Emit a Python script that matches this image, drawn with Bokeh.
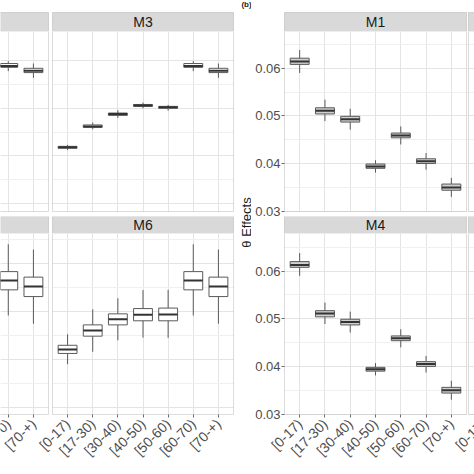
import math

from bokeh.core.properties import value
from bokeh.embed import file_html
from bokeh.layouts import column, row
from bokeh.models import (BoxAnnotation, ColumnDataSource, FixedTicker, Grid, Label,
                          LinearAxis, PrintfTickFormatter, Range1d)
from bokeh.plotting import figure
from bokeh.resources import INLINE
from bokeh.transform import dodge

# ---------------------------------------------------------------- data
age_groups = ["[0-17)", "[17-30)", "[30-40)", "[40-50)", "[50-60)", "[60-70)", "[70-+)"]

# (a) M3: lower whisker, Q1, median, Q3, upper whisker per age group
m3_low = [0.0512, 0.0556, 0.0580, 0.0600, 0.0595, 0.0678, 0.0664]
m3_q1 = [0.0516, 0.0560, 0.0585, 0.0604, 0.0600, 0.0686, 0.0675]
m3_med = [0.0518, 0.0562, 0.0588, 0.0606, 0.0602, 0.0689, 0.0679]
m3_q3 = [0.0520, 0.0565, 0.0590, 0.0608, 0.0604, 0.0694, 0.0684]
m3_up = [0.0523, 0.0570, 0.0596, 0.0612, 0.0607, 0.0699, 0.0694]

# (a) M6
m6_low = [0.0379, 0.0431, 0.0479, 0.0490, 0.0489, 0.0582, 0.0548]
m6_q1 = [0.0424, 0.0496, 0.0543, 0.0560, 0.0560, 0.0689, 0.0661]
m6_med = [0.0440, 0.0520, 0.0567, 0.0585, 0.0586, 0.0728, 0.0703]
m6_q3 = [0.0458, 0.0543, 0.0589, 0.0611, 0.0613, 0.0765, 0.0742]
m6_up = [0.0504, 0.0608, 0.0654, 0.0688, 0.0689, 0.0879, 0.0857]

# (a) neighbouring panels, oldest two age groups
m2_groups = ["[60-70)", "[70-+)"]
m2_low = [0.0678, 0.0664]
m2_q1 = [0.0686, 0.0675]
m2_med = [0.0689, 0.0679]
m2_q3 = [0.0694, 0.0684]
m2_up = [0.0699, 0.0694]

m5_groups = ["[60-70)", "[70-+)"]
m5_low = [0.0582, 0.0548]
m5_q1 = [0.0689, 0.0661]
m5_med = [0.0728, 0.0703]
m5_q3 = [0.0765, 0.0742]
m5_up = [0.0879, 0.0857]

# (b) M1 theta effects
m1_low = [0.0590, 0.0489, 0.0471, 0.0381, 0.0440, 0.0387, 0.0330]
m1_q1 = [0.0608, 0.0504, 0.0487, 0.0390, 0.0454, 0.0400, 0.0344]
m1_med = [0.0614, 0.0511, 0.0493, 0.0394, 0.0459, 0.0405, 0.0350]
m1_q3 = [0.0621, 0.0517, 0.0499, 0.0399, 0.0464, 0.0410, 0.0357]
m1_up = [0.0638, 0.0534, 0.0515, 0.0407, 0.0478, 0.0422, 0.0370]

# (b) M4 theta effects
m4_low = [0.0590, 0.0489, 0.0471, 0.0381, 0.0440, 0.0387, 0.0330]
m4_q1 = [0.0608, 0.0504, 0.0487, 0.0390, 0.0454, 0.0400, 0.0344]
m4_med = [0.0613, 0.0511, 0.0493, 0.0394, 0.0459, 0.0405, 0.0350]
m4_q3 = [0.0620, 0.0517, 0.0499, 0.0398, 0.0464, 0.0410, 0.0356]
m4_up = [0.0638, 0.0534, 0.0515, 0.0407, 0.0478, 0.0422, 0.0370]

# first age group of the next (b) column, only its tick label shows
next_groups = ["[0-17)"]

b_ticks = [0.03, 0.04, 0.05, 0.06]
b_minor = [0.035, 0.045, 0.055, 0.065]
a_top_ticks = [0.04, 0.05, 0.06, 0.07]
a_top_minor = [0.045, 0.055, 0.065]
a_bot_ticks = [0.02, 0.04, 0.06, 0.08]
a_bot_minor = [0.03, 0.05, 0.07, 0.09]

# ---------------------------------------------------------------- style
FONT = "Liberation Sans"
TICK_SIZE = "13px"
XLAB_SIZE = "14px"
STRIP_SIZE = "14px"
BORDER = "#8c8c8c"
STRIP_FILL = "#d9d9d9"
GRID_MAJOR = "#e4e4e4"
GRID_MINOR = "#f0f0f0"
TICK_TEXT = "#4d4d4d"
TICK_LINE = "#6a6a6a"

# vertical layout (px)
TOP_PAD, STRIP1_H, PANEL1_H, GAP_H = 12, 19, 180, 5
STRIP2_H, PANEL2_H, AXIS_H = 17, 181, 60

positions = list(range(1, len(age_groups) + 1))
X0, X1 = 0.4, 7.6          # plotting extent of a panel in category units

# horizontal layout (px): group (a) is 234 wide, the title strip 17, group (b) 223
W_A, W_T, W_B = 234, 17, 223
unit_a = 181 / (X1 - X0)   # px per category, group (a)
unit_b = 182 / (X1 - X0)   # px per category, group (b)


def a_ranges():
    # M3/M6 panel spans 52..233 px, neighbour panel ends at 48 px
    main = Range1d(X0 - 52 / unit_a, X1 + (W_A - 233) / unit_a)
    left = Range1d(X1 - 48 / unit_a, X1 + (W_A - 48) / unit_a)
    return main, {"nb": left}


def b_ranges():
    # M1/M4 panel spans 33..215 px, next panel starts at 217 px
    main = Range1d(X0 - 33 / unit_b, X1 + (W_B - 215) / unit_b)
    right = Range1d(X0 - 217 / unit_b, X0 + (W_B - 217) / unit_b)
    return main, {"nb": right}


def new_fig(width, height, ranges, yr):
    xr, extra = ranges
    p = figure(width=width, height=height, x_range=xr, y_range=yr,
               output_backend="svg", toolbar_location=None,
               x_axis_location=None, y_axis_location=None, min_border=0,
               background_fill_color="white", border_fill_color="white",
               outline_line_color=None)
    p.extra_x_ranges = extra
    p.xgrid.visible = False
    p.ygrid.visible = False
    return p


def cover(p, **kw):
    p.add_layout(BoxAnnotation(fill_color="white", fill_alpha=1, line_color=None,
                               level="underlay", **kw))


def border(p, left, right, bottom, top, rname="default", fill=None):
    p.add_layout(BoxAnnotation(left=left, right=right, bottom=bottom, top=top,
                               x_range_name=rname, fill_color=fill, fill_alpha=1,
                               line_color=BORDER, line_width=1))


def strips(width, height, ranges, pad, main_text, nb_side):
    yr = Range1d(0, height / (height - pad))
    p = new_fig(width, height, ranges, yr)
    nb = ranges[1]["nb"]
    if nb_side == "left":
        border(p, nb.start - 1, X1, 0, 1, "nb", STRIP_FILL)
    else:
        border(p, X0, nb.end + 1, 0, 1, "nb", STRIP_FILL)
    border(p, X0, X1, 0, 1, fill=STRIP_FILL)
    p.add_layout(Label(x=(X0 + X1) / 2, y=0.5, text=main_text, text_align="center",
                       text_baseline="middle", text_font=FONT,
                       text_font_size=STRIP_SIZE, text_color="#1a1a1a"))
    return p


def panels(width, plot_h, extra_h, ranges, rng, ticks, minor, nb_side):
    lo, hi = rng
    yr = Range1d(lo - extra_h * (hi - lo) / plot_h, hi)
    p = new_fig(width, plot_h + extra_h, ranges, yr)
    for rname in ("default", "nb"):
        p.add_layout(Grid(dimension=0, ticker=FixedTicker(ticks=positions),
                          x_range_name=rname, grid_line_color=GRID_MAJOR))
    p.add_layout(Grid(dimension=1, ticker=FixedTicker(ticks=ticks, minor_ticks=minor),
                      grid_line_color=GRID_MAJOR, minor_grid_line_color=GRID_MINOR))
    # white margins around the panels
    cover(p, top=lo)
    nb = ranges[1]["nb"]
    unit = unit_a if nb_side == "left" else unit_b
    if nb_side == "left":
        cover(p, left=X1, right=X1 + 4 / unit, x_range_name="nb")
        cover(p, left=X1)
        border(p, nb.start - 1, X1, lo, hi, "nb")
    else:
        cover(p, right=X0)
        cover(p, left=X1, right=X1 + 2 / unit)
        border(p, X0, nb.end + 1, lo, hi, "nb")
    border(p, X0, X1, lo, hi)
    return p


def boxes(p, groups, low, q1, med, q3, up, fill, rname="default"):
    src = ColumnDataSource(dict(x=[age_groups.index(g) + 1 for g in groups],
                                low=low, q1=q1, med=med, q3=q3, up=up))
    p.segment(x0="x", y0="low", x1="x", y1="up", source=src,
              line_color="#5a5a5a", line_width=1, x_range_name=rname)
    p.vbar(x="x", width=0.75, bottom="q1", top="q3", source=src,
           fill_color=fill, line_color="#5a5a5a", line_width=1, x_range_name=rname)
    p.segment(x0=dodge("x", -0.375), y0="med", x1=dodge("x", 0.375), y1="med",
              source=src, line_color="#333333", line_width=2, x_range_name=rname)


def x_labels(p, lo, groups, rname="default", ticks=True):
    if ticks:
        ax = LinearAxis(ticker=FixedTicker(ticks=positions), fixed_location=lo,
                        x_range_name=rname, major_label_text_color=None,
                        axis_line_color=None, major_tick_line_color=TICK_LINE,
                        major_tick_out=3, major_tick_in=0,
                        minor_tick_out=0, minor_tick_in=0)
        p.add_layout(ax, "below")
    # age-group labels, rotated so that each one ends under its tick
    src = ColumnDataSource(dict(x=[age_groups.index(g) + 1 for g in groups],
                                y=[lo] * len(groups), text=groups))
    p.text(x="x", y="y", text="text", source=src, angle=math.pi / 4,
           text_align="right", text_baseline="middle", x_offset=0, y_offset=7,
           text_font=value(FONT), text_font_size=value(XLAB_SIZE),
           text_color=TICK_TEXT, x_range_name=rname)


def y_labels(p, ticks):
    ax = LinearAxis(ticker=FixedTicker(ticks=ticks), fixed_location=X0,
                    formatter=PrintfTickFormatter(format="%.2f"),
                    axis_line_color=None, major_tick_line_color=TICK_LINE,
                    major_tick_out=3, major_tick_in=0,
                    minor_tick_out=0, minor_tick_in=0,
                    major_label_standoff=1, major_label_text_font=FONT,
                    major_label_text_font_size=TICK_SIZE,
                    major_label_text_color=TICK_TEXT)
    p.add_layout(ax, "left")


# ---------------------------------------------------------------- group (a)
a_top_rng = (0.03832, 0.07613)
a_bot_rng = (0.01696, 0.09238)

sa1 = strips(W_A, TOP_PAD + STRIP1_H, a_ranges(), TOP_PAD, "M3", "left")
pa1 = panels(W_A, PANEL1_H, GAP_H, a_ranges(), a_top_rng, a_top_ticks, a_top_minor, "left")
boxes(pa1, m2_groups, m2_low, m2_q1, m2_med, m2_q3, m2_up, "white", "nb")
boxes(pa1, age_groups, m3_low, m3_q1, m3_med, m3_q3, m3_up, "white")

sa2 = strips(W_A, STRIP2_H, a_ranges(), 0, "M6", "left")
pa2 = panels(W_A, PANEL2_H, AXIS_H, a_ranges(), a_bot_rng, a_bot_ticks, a_bot_minor, "left")
boxes(pa2, m5_groups, m5_low, m5_q1, m5_med, m5_q3, m5_up, "white", "nb")
boxes(pa2, age_groups, m6_low, m6_q1, m6_med, m6_q3, m6_up, "white")
x_labels(pa2, a_bot_rng[0], m5_groups, "nb")
x_labels(pa2, a_bot_rng[0], age_groups)

# ---------------------------------------------------------------- titles
total_h = TOP_PAD + STRIP1_H + PANEL1_H + GAP_H + STRIP2_H + PANEL2_H + AXIS_H
pt = new_fig(W_T, total_h, (Range1d(0, W_T), {}), Range1d(total_h, 0))
pt.add_layout(Label(x=12, y=222, text="θ Effects", angle=math.pi / 2,
                    text_align="center", text_baseline="middle", text_font=FONT,
                    text_font_size=TICK_SIZE, text_color="#1a1a1a"))
pt.add_layout(Label(x=12, y=-1, text="(b)", text_align="center", text_baseline="top",
                    text_font=FONT, text_font_size="8px",
                    text_font_style="bold", text_color="#1a1a1a"))

# ---------------------------------------------------------------- group (b)
b_top_rng = (0.02994, 0.0677)
b_bot_rng = (0.0299, 0.0679)

sb1 = strips(W_B, TOP_PAD + STRIP1_H, b_ranges(), TOP_PAD, "M1", "right")
pb1 = panels(W_B, PANEL1_H, GAP_H, b_ranges(), b_top_rng, b_ticks, b_minor, "right")
boxes(pb1, age_groups, m1_low, m1_q1, m1_med, m1_q3, m1_up, "#d0d0d0")
y_labels(pb1, b_ticks)

sb2 = strips(W_B, STRIP2_H, b_ranges(), 0, "M4", "right")
pb2 = panels(W_B, PANEL2_H, AXIS_H, b_ranges(), b_bot_rng, b_ticks, b_minor, "right")
boxes(pb2, age_groups, m4_low, m4_q1, m4_med, m4_q3, m4_up, "#d0d0d0")
y_labels(pb2, b_ticks)
x_labels(pb2, b_bot_rng[0], age_groups)
x_labels(pb2, b_bot_rng[0], next_groups, "nb", ticks=False)

layout = row(column(sa1, pa1, sa2, pa2), pt, column(sb1, pb1, sb2, pb2))

open("out.html", "w").write(file_html(layout, INLINE))
